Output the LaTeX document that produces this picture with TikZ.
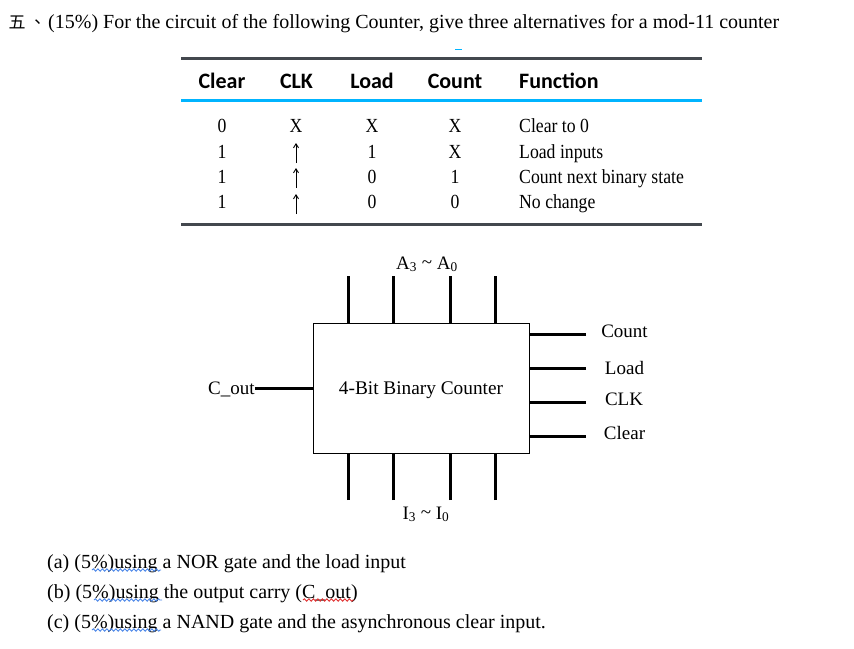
\documentclass[tikz,border=0pt]{standalone}
\usepackage{fontspec}
\setmainfont{Liberation Serif}
\newfontfamily\cjkfont{Noto Sans CJK TC}
\newfontfamily\headfont{Carlito}
\newfontfamily\tabfont[FakeStretch=0.885]{Liberation Serif}
\usetikzlibrary{decorations.pathmorphing,arrows.meta}
\definecolor{ruledark}{HTML}{43484E}
\definecolor{rulecyan}{HTML}{00B4FF}
\definecolor{wavyblue}{HTML}{4A86E8}
\definecolor{wavyred}{HTML}{E03030}
\tikzset{
  x=1pt,y=-1pt,
  txt/.style={anchor=base west,inner sep=0pt,font=\fontsize{20}{22}\selectfont},
  lab/.style={anchor=base,inner sep=0pt,font=\fontsize{19}{20}\selectfont},
  head/.style={anchor=base,inner sep=0pt,font=\headfont\bfseries\fontsize{22}{24}\selectfont},
  cell/.style={anchor=base,inner sep=0pt,font=\tabfont\fontsize{20}{22}\selectfont},
  cellw/.style={anchor=base west,inner sep=0pt,font=\tabfont\fontsize{20}{22}\selectfont},
  hrule/.style={line width=3pt,ruledark},
  crule/.style={line width=3pt,rulecyan},
  pin/.style={line width=3pt,black},
  wavy/.style={line width=0.9pt,decorate,decoration={snake,amplitude=1.2pt,segment length=4.5pt}},
  counter/.style={draw,line width=1pt,minimum width=216pt,minimum height=130pt,inner sep=0pt,font=\fontsize{19.3}{22}\selectfont},
}
\begin{document}
\begin{tikzpicture}
\useasboundingbox (0,0) rectangle (854,648);
% heading
\node[anchor=base west,inner sep=0pt,font=\cjkfont\fontsize{17}{18}\selectfont] (wu) at (8.5,28) {五};
\node[anchor=base west,inner sep=0pt,font=\cjkfont\fontsize{17}{18}\selectfont] (dun) at (29,28) {、};
\node[txt] (title) at (48,28) {(15\%) For the circuit of the following Counter, give three alternatives for a mod-11 counter};
% table rules
\coordinate (r1l) at (181,58); \coordinate (r1r) at (702,58);
\coordinate (r2l) at (181,100); \coordinate (r2r) at (702,100);
\coordinate (r3l) at (181,224); \coordinate (r3r) at (702,224);
\draw[hrule] (r1l) -- (r1r);
\draw[crule] (r2l) -- (r2r);
\draw[hrule] (r3l) -- (r3r);
\draw[rulecyan,line width=1pt] (455,49) -- (462,49);
% header
\node[head] (hclear) at (222,88.5) {Clear};
\node[head] (hclk) at (296.5,88.5) {CLK};
\node[head] (hload) at (372,88.5) {Load};
\node[head] (hcount) at (455,88.5) {Count};
\node[head,anchor=base west] (hfunc) at (519,88.5) {Function};
% rows
\node[cell] (c11) at (222,132) {0};
\node[cell] (c12) at (296,132) {X};
\node[cell] (c13) at (372,132) {X};
\node[cell] (c14) at (455,132) {X};
\node[cellw] (c15) at (519,132) {Clear to 0};
\node[cell] (c21) at (222,158) {1};
\node[cell] (c23) at (372,158) {1};
\node[cell] (c24) at (455,158) {X};
\node[cellw] (c25) at (519,158) {Load inputs};
\node[cell] (c31) at (222,183) {1};
\node[cell] (c33) at (372,183) {0};
\node[cell] (c34) at (455,183) {1};
\node[cellw] (c35) at (519,183) {Count next binary state};
\node[cell] (c41) at (222,208) {1};
\node[cell] (c43) at (372,208) {0};
\node[cell] (c44) at (455,208) {0};
\node[cellw] (c45) at (519,208) {No change};
% clock arrows
\foreach \n/\yy in {a/143,b/168,c/194}{
  \coordinate (clk\n s) at (296,\yy+20);
  \coordinate (clk\n e) at (296,\yy);
  \draw[line width=0.9pt,-{Straight Barb[length=4pt,width=5pt]}] (clk\n s) -- (clk\n e);
}
% counter
\node[counter] (box) at (421,388) {\smash{\raisebox{-6.5pt}{4-Bit Binary Counter}}};
\node[lab] (atop) at (427,269) {A\textsubscript{3} \raisebox{1pt}{\textasciitilde} A\textsubscript{0}};
\node[lab] (ibot) at (426,519) {I\textsubscript{3} \raisebox{1pt}{\textasciitilde} I\textsubscript{0}};
\foreach \n/\xx in {a/348,b/393,c/450,d/495}{
  \coordinate (top\n) at (\xx,276);
  \coordinate (bot\n) at (\xx,500);
  \draw[pin] (top\n) -- (top\n |- box.north);
  \draw[pin] (bot\n) -- (bot\n |- box.south);
}
\node[lab,anchor=base west] (cout) at (208,394) {C\_out};
\draw[pin] (cout.east |- box.west) -- (box.west);
\foreach \n/\yy in {count/334,load/368,clk/402,clear/436}{
  \coordinate (pin\n) at (586,\yy);
  \draw[pin] (pin\n) -- (pin\n -| box.east);
}
\node[lab] (lcount) at (624.5,337) {Count};
\node[lab] (lload) at (624.5,374) {Load};
\node[lab] (lclk) at (624,405) {CLK};
\node[lab] (lclear) at (624.5,439) {Clear};
% questions
\node[txt] (qa) at (47,568) {(a) (5\%)using a NOR gate and the load input};
\node[txt] (qb) at (47,598) {(b) (5\%)using the output carry (C\_out)};
\node[txt] (qc) at (47,628) {(c) (5\%)using a NAND gate and the asynchronous clear input.};
% proofing marks
\coordinate (wa1) at (92,570); \coordinate (wa2) at (161,570);
\coordinate (wb1) at (94,600); \coordinate (wb2) at (162,600);
\coordinate (wc1) at (92,630); \coordinate (wc2) at (161,630);
\coordinate (wd1) at (303,600); \coordinate (wd2) at (354,600);
\draw[wavy,wavyblue] (wa1) -- (wa2);
\draw[wavy,wavyblue] (wb1) -- (wb2);
\draw[wavy,wavyblue] (wc1) -- (wc2);
\draw[wavy,wavyred] (wd1) -- (wd2);
\end{tikzpicture}
\end{document}
